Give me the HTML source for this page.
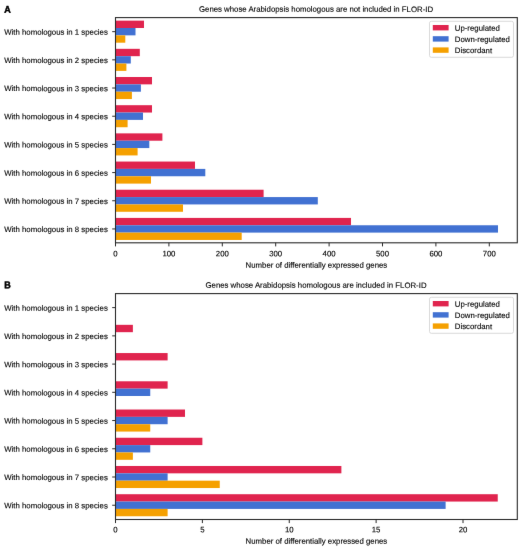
<!DOCTYPE html>
<html><head><meta charset="utf-8"><style>
html,body{margin:0;padding:0;background:#fff;}
body{width:523px;height:550px;overflow:hidden;}
svg{display:block;}
text{font-family:"Liberation Sans",sans-serif;font-size:7.8px;fill:#000;stroke:#000;stroke-width:0.12px;}
</style></head><body>
<svg width="523" height="550" viewBox="0 0 523 550">
<defs><filter id="bl" x="0" y="0" width="523" height="550" filterUnits="userSpaceOnUse" color-interpolation-filters="sRGB"><feConvolveMatrix order="3" kernelMatrix="0.00276 0.04704 0.00276 0.04704 0.80077 0.04704 0.00276 0.04704 0.00276" divisor="1" edgeMode="duplicate" preserveAlpha="true"/></filter></defs>
<g filter="url(#bl)">
<rect width="523" height="550" fill="#fff"/>
<rect x="115.50" y="20.65" width="28.50" height="7.35" fill="#E0244E"/>
<rect x="115.50" y="28.00" width="20.00" height="7.35" fill="#4171D2"/>
<rect x="115.50" y="35.35" width="9.80" height="7.35" fill="#F5A000"/>
<rect x="115.50" y="48.83" width="24.30" height="7.35" fill="#E0244E"/>
<rect x="115.50" y="56.18" width="15.30" height="7.35" fill="#4171D2"/>
<rect x="115.50" y="63.53" width="10.90" height="7.35" fill="#F5A000"/>
<rect x="115.50" y="77.01" width="36.50" height="7.35" fill="#E0244E"/>
<rect x="115.50" y="84.36" width="25.40" height="7.35" fill="#4171D2"/>
<rect x="115.50" y="91.71" width="16.40" height="7.35" fill="#F5A000"/>
<rect x="115.50" y="105.19" width="36.50" height="7.35" fill="#E0244E"/>
<rect x="115.50" y="112.54" width="27.50" height="7.35" fill="#4171D2"/>
<rect x="115.50" y="119.89" width="12.10" height="7.35" fill="#F5A000"/>
<rect x="115.50" y="133.37" width="46.90" height="7.35" fill="#E0244E"/>
<rect x="115.50" y="140.72" width="33.80" height="7.35" fill="#4171D2"/>
<rect x="115.50" y="148.07" width="22.10" height="7.35" fill="#F5A000"/>
<rect x="115.50" y="161.55" width="79.50" height="7.35" fill="#E0244E"/>
<rect x="115.50" y="168.90" width="89.80" height="7.35" fill="#4171D2"/>
<rect x="115.50" y="176.25" width="35.50" height="7.35" fill="#F5A000"/>
<rect x="115.50" y="189.73" width="148.10" height="7.35" fill="#E0244E"/>
<rect x="115.50" y="197.08" width="202.30" height="7.35" fill="#4171D2"/>
<rect x="115.50" y="204.43" width="67.50" height="7.35" fill="#F5A000"/>
<rect x="115.50" y="217.91" width="235.50" height="7.35" fill="#E0244E"/>
<rect x="115.50" y="225.26" width="382.50" height="7.35" fill="#4171D2"/>
<rect x="115.50" y="232.61" width="126.20" height="7.35" fill="#F5A000"/>
<rect x="115.50" y="17.60" width="401.80" height="225.20" fill="none" stroke="#2a2a2a" stroke-width="1.1"/>
<line x1="112.20" y1="31.67" x2="115.50" y2="31.67" stroke="#2a2a2a" stroke-width="1"/>
<line x1="112.20" y1="59.85" x2="115.50" y2="59.85" stroke="#2a2a2a" stroke-width="1"/>
<line x1="112.20" y1="88.03" x2="115.50" y2="88.03" stroke="#2a2a2a" stroke-width="1"/>
<line x1="112.20" y1="116.22" x2="115.50" y2="116.22" stroke="#2a2a2a" stroke-width="1"/>
<line x1="112.20" y1="144.40" x2="115.50" y2="144.40" stroke="#2a2a2a" stroke-width="1"/>
<line x1="112.20" y1="172.58" x2="115.50" y2="172.58" stroke="#2a2a2a" stroke-width="1"/>
<line x1="112.20" y1="200.75" x2="115.50" y2="200.75" stroke="#2a2a2a" stroke-width="1"/>
<line x1="112.20" y1="228.94" x2="115.50" y2="228.94" stroke="#2a2a2a" stroke-width="1"/>
<line x1="115.50" y1="242.80" x2="115.50" y2="246.40" stroke="#2a2a2a" stroke-width="1"/>
<line x1="168.90" y1="242.80" x2="168.90" y2="246.40" stroke="#2a2a2a" stroke-width="1"/>
<line x1="222.30" y1="242.80" x2="222.30" y2="246.40" stroke="#2a2a2a" stroke-width="1"/>
<line x1="275.70" y1="242.80" x2="275.70" y2="246.40" stroke="#2a2a2a" stroke-width="1"/>
<line x1="329.10" y1="242.80" x2="329.10" y2="246.40" stroke="#2a2a2a" stroke-width="1"/>
<line x1="382.50" y1="242.80" x2="382.50" y2="246.40" stroke="#2a2a2a" stroke-width="1"/>
<line x1="435.90" y1="242.80" x2="435.90" y2="246.40" stroke="#2a2a2a" stroke-width="1"/>
<line x1="489.30" y1="242.80" x2="489.30" y2="246.40" stroke="#2a2a2a" stroke-width="1"/>
<rect x="429.5" y="21.30" width="84.0" height="36.0" rx="1.8" fill="#fff" fill-opacity="0.8" stroke="#d0d0d0" stroke-width="0.8"/>
<rect x="432.8" y="25.00" width="15.8" height="5.4" fill="#E0244E"/>
<rect x="432.8" y="36.20" width="15.8" height="5.4" fill="#4171D2"/>
<rect x="432.8" y="47.40" width="15.8" height="5.4" fill="#F5A000"/>
<rect x="115.50" y="324.83" width="17.38" height="7.35" fill="#E0244E"/>
<rect x="115.50" y="353.06" width="52.12" height="7.35" fill="#E0244E"/>
<rect x="115.50" y="381.29" width="52.12" height="7.35" fill="#E0244E"/>
<rect x="115.50" y="388.64" width="34.75" height="7.35" fill="#4171D2"/>
<rect x="115.50" y="409.52" width="69.50" height="7.35" fill="#E0244E"/>
<rect x="115.50" y="416.87" width="52.12" height="7.35" fill="#4171D2"/>
<rect x="115.50" y="424.22" width="34.75" height="7.35" fill="#F5A000"/>
<rect x="115.50" y="437.75" width="86.88" height="7.35" fill="#E0244E"/>
<rect x="115.50" y="445.10" width="34.75" height="7.35" fill="#4171D2"/>
<rect x="115.50" y="452.45" width="17.38" height="7.35" fill="#F5A000"/>
<rect x="115.50" y="465.98" width="225.88" height="7.35" fill="#E0244E"/>
<rect x="115.50" y="473.33" width="52.12" height="7.35" fill="#4171D2"/>
<rect x="115.50" y="480.68" width="104.25" height="7.35" fill="#F5A000"/>
<rect x="115.50" y="494.21" width="382.25" height="7.35" fill="#E0244E"/>
<rect x="115.50" y="501.56" width="330.12" height="7.35" fill="#4171D2"/>
<rect x="115.50" y="508.91" width="52.12" height="7.35" fill="#F5A000"/>
<rect x="115.50" y="293.60" width="401.80" height="225.90" fill="none" stroke="#2a2a2a" stroke-width="1.1"/>
<line x1="112.20" y1="307.62" x2="115.50" y2="307.62" stroke="#2a2a2a" stroke-width="1"/>
<line x1="112.20" y1="335.86" x2="115.50" y2="335.86" stroke="#2a2a2a" stroke-width="1"/>
<line x1="112.20" y1="364.08" x2="115.50" y2="364.08" stroke="#2a2a2a" stroke-width="1"/>
<line x1="112.20" y1="392.31" x2="115.50" y2="392.31" stroke="#2a2a2a" stroke-width="1"/>
<line x1="112.20" y1="420.55" x2="115.50" y2="420.55" stroke="#2a2a2a" stroke-width="1"/>
<line x1="112.20" y1="448.77" x2="115.50" y2="448.77" stroke="#2a2a2a" stroke-width="1"/>
<line x1="112.20" y1="477.00" x2="115.50" y2="477.00" stroke="#2a2a2a" stroke-width="1"/>
<line x1="112.20" y1="505.24" x2="115.50" y2="505.24" stroke="#2a2a2a" stroke-width="1"/>
<line x1="115.50" y1="519.50" x2="115.50" y2="523.10" stroke="#2a2a2a" stroke-width="1"/>
<line x1="202.38" y1="519.50" x2="202.38" y2="523.10" stroke="#2a2a2a" stroke-width="1"/>
<line x1="289.25" y1="519.50" x2="289.25" y2="523.10" stroke="#2a2a2a" stroke-width="1"/>
<line x1="376.12" y1="519.50" x2="376.12" y2="523.10" stroke="#2a2a2a" stroke-width="1"/>
<line x1="463.00" y1="519.50" x2="463.00" y2="523.10" stroke="#2a2a2a" stroke-width="1"/>
<rect x="429.5" y="297.30" width="84.0" height="36.0" rx="1.8" fill="#fff" fill-opacity="0.8" stroke="#d0d0d0" stroke-width="0.8"/>
<rect x="432.8" y="301.00" width="15.8" height="5.4" fill="#E0244E"/>
<rect x="432.8" y="312.20" width="15.8" height="5.4" fill="#4171D2"/>
<rect x="432.8" y="323.40" width="15.8" height="5.4" fill="#F5A000"/>
<text transform="translate(107.80,34.82) scale(1,1.0) rotate(0.05)" text-anchor="end">With homologous in 1 species</text>
<text transform="translate(107.80,63.00) scale(1,1.0) rotate(0.05)" text-anchor="end">With homologous in 2 species</text>
<text transform="translate(107.80,91.19) scale(1,1.0) rotate(0.05)" text-anchor="end">With homologous in 3 species</text>
<text transform="translate(107.80,119.37) scale(1,1.0) rotate(0.05)" text-anchor="end">With homologous in 4 species</text>
<text transform="translate(107.80,147.55) scale(1,1.0) rotate(0.05)" text-anchor="end">With homologous in 5 species</text>
<text transform="translate(107.80,175.73) scale(1,1.0) rotate(0.05)" text-anchor="end">With homologous in 6 species</text>
<text transform="translate(107.80,203.91) scale(1,1.0) rotate(0.05)" text-anchor="end">With homologous in 7 species</text>
<text transform="translate(107.80,232.09) scale(1,1.0) rotate(0.05)" text-anchor="end">With homologous in 8 species</text>
<text transform="translate(115.50,256.20) scale(1,1.0) rotate(0.05)" text-anchor="middle">0</text>
<text transform="translate(168.90,256.20) scale(1,1.0) rotate(0.05)" text-anchor="middle">100</text>
<text transform="translate(222.30,256.20) scale(1,1.0) rotate(0.05)" text-anchor="middle">200</text>
<text transform="translate(275.70,256.20) scale(1,1.0) rotate(0.05)" text-anchor="middle">300</text>
<text transform="translate(329.10,256.20) scale(1,1.0) rotate(0.05)" text-anchor="middle">400</text>
<text transform="translate(382.50,256.20) scale(1,1.0) rotate(0.05)" text-anchor="middle">500</text>
<text transform="translate(435.90,256.20) scale(1,1.0) rotate(0.05)" text-anchor="middle">600</text>
<text transform="translate(489.30,256.20) scale(1,1.0) rotate(0.05)" text-anchor="middle">700</text>
<text transform="translate(316.40,267.80) scale(1,1.0) rotate(0.05)" text-anchor="middle">Number of differentially expressed genes</text>
<text transform="translate(316.00,11.80) scale(1,1.0) rotate(0.05)" text-anchor="middle">Genes whose Arabidopsis homologous are not included in FLOR-ID</text>
<text transform="translate(4.30,12.70) scale(1,1.08) rotate(0.05)" style="font-weight:bold;font-size:9px;stroke-width:0.45px">A</text>
<text transform="translate(454.80,30.70) scale(1,1.0) rotate(0.05)">Up-regulated</text>
<text transform="translate(454.80,41.90) scale(1,1.0) rotate(0.05)">Down-regulated</text>
<text transform="translate(454.80,53.10) scale(1,1.0) rotate(0.05)">Discordant</text>
<text transform="translate(107.80,310.77) scale(1,1.0) rotate(0.05)" text-anchor="end">With homologous in 1 species</text>
<text transform="translate(107.80,339.00) scale(1,1.0) rotate(0.05)" text-anchor="end">With homologous in 2 species</text>
<text transform="translate(107.80,367.23) scale(1,1.0) rotate(0.05)" text-anchor="end">With homologous in 3 species</text>
<text transform="translate(107.80,395.46) scale(1,1.0) rotate(0.05)" text-anchor="end">With homologous in 4 species</text>
<text transform="translate(107.80,423.69) scale(1,1.0) rotate(0.05)" text-anchor="end">With homologous in 5 species</text>
<text transform="translate(107.80,451.92) scale(1,1.0) rotate(0.05)" text-anchor="end">With homologous in 6 species</text>
<text transform="translate(107.80,480.15) scale(1,1.0) rotate(0.05)" text-anchor="end">With homologous in 7 species</text>
<text transform="translate(107.80,508.38) scale(1,1.0) rotate(0.05)" text-anchor="end">With homologous in 8 species</text>
<text transform="translate(115.50,532.20) scale(1,1.0) rotate(0.05)" text-anchor="middle">0</text>
<text transform="translate(202.38,532.20) scale(1,1.0) rotate(0.05)" text-anchor="middle">5</text>
<text transform="translate(289.25,532.20) scale(1,1.0) rotate(0.05)" text-anchor="middle">10</text>
<text transform="translate(376.12,532.20) scale(1,1.0) rotate(0.05)" text-anchor="middle">15</text>
<text transform="translate(463.00,532.20) scale(1,1.0) rotate(0.05)" text-anchor="middle">20</text>
<text transform="translate(316.40,543.80) scale(1,1.0) rotate(0.05)" text-anchor="middle">Number of differentially expressed genes</text>
<text transform="translate(316.00,287.80) scale(1,1.0) rotate(0.05)" text-anchor="middle">Genes whose Arabidopsis homologous are included in FLOR-ID</text>
<text transform="translate(4.30,288.20) scale(1,1.08) rotate(0.05)" style="font-weight:bold;font-size:9px;stroke-width:0.45px">B</text>
<text transform="translate(454.80,306.70) scale(1,1.0) rotate(0.05)">Up-regulated</text>
<text transform="translate(454.80,317.90) scale(1,1.0) rotate(0.05)">Down-regulated</text>
<text transform="translate(454.80,329.10) scale(1,1.0) rotate(0.05)">Discordant</text>
</g>
</svg>
</body></html>
